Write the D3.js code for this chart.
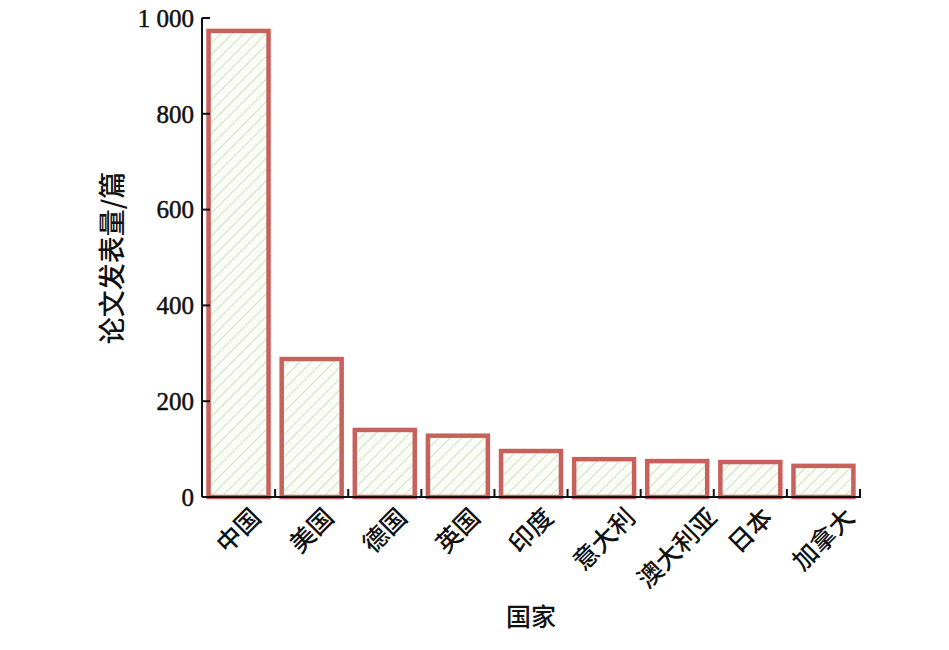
<!DOCTYPE html>
<html>
<head>
<meta charset="utf-8">
<script src="https://cdn.jsdelivr.net/npm/d3@7"></script>
<style>
  body { margin: 0; background: #fff; }
  .Tick { font-family: "Liberation Serif", serif; font-size: 25px; fill: #111; stroke: #111; stroke-width: 0.5px; }
  .Cat, .AxisLabel { font-family: "Noto Sans CJK SC", sans-serif; font-size: 25px; fill: #111; font-weight: 500; }
</style>
</head>
<body>
<div id="ChartContainer"></div>
<script>
var countries = ["中国", "美国", "德国", "英国", "印度", "意大利", "澳大利亚", "日本", "加拿大"]
var papers = [973, 288, 140, 128, 96, 79, 75, 73, 65]
var yTicks = [0, 200, 400, 600, 800, 1000]
var yTickLabels = ["0", "200", "400", "600", "800", "1 000"]

var fullWidth = 949
var fullHeight = 650
var margin = { top: 18, left: 202, right: 89, bottom: 153 }
var width = fullWidth - margin.left - margin.right
var height = fullHeight - margin.top - margin.bottom

var svg = d3.select("#ChartContainer").append("svg")
  .attr("width", fullWidth)
  .attr("height", fullHeight)

// hatch pattern for bars
var defs = svg.append("defs")
var pat = defs.append("pattern")
  .attr("id", "hatch")
  .attr("patternUnits", "userSpaceOnUse")
  .attr("width", 8)
  .attr("height", 8)
  .attr("patternTransform", "rotate(45)")
pat.append("rect").attr("width", 8).attr("height", 8).attr("fill", "#fbfdf8")
pat.append("line")
  .attr("x1", 0).attr("y1", 0).attr("x2", 0).attr("y2", 8)
  .attr("stroke", "#b2cf93")
  .attr("stroke-width", 1.2)

var g = svg.append("g")
  .attr("transform", `translate(${margin.left},${margin.top})`)

var x = d3.scaleBand()
  .domain(countries)
  .range([0, width])
var y = d3.scaleLinear()
  .domain([0, 1000])
  .range([height, 0])

var barW = x.bandwidth() * 0.82

g.selectAll(".Bar")
  .data(countries)
  .enter().append("rect")
  .attr("class", "Bar")
  .attr("x", (d) => x(d) + (x.bandwidth() - barW) / 2)
  .attr("y", (d, i) => y(papers[i]))
  .attr("width", barW)
  .attr("height", (d, i) => height - y(papers[i]))
  .attr("fill", "url(#hatch)")
  .attr("stroke", "#c8605c")
  .attr("stroke-width", 4.5)

// y-axis
g.append("line")
  .attr("x1", 0).attr("x2", 0)
  .attr("y1", 0).attr("y2", height)
  .attr("stroke", "#111").attr("stroke-width", 2)
yTicks.forEach((t, i) => {
  g.append("line")
    .attr("x1", 0).attr("x2", 8)
    .attr("y1", y(t)).attr("y2", y(t))
    .attr("stroke", "#111").attr("stroke-width", 2)
  g.append("text")
    .attr("class", "Tick")
    .attr("x", -8)
    .attr("y", y(t))
    .attr("dy", "0.35em")
    .attr("text-anchor", "end")
    .text(yTickLabels[i])
})

// x-axis
g.append("line")
  .attr("x1", 0).attr("x2", width + 1)
  .attr("y1", height).attr("y2", height)
  .attr("stroke", "#111").attr("stroke-width", 2)
countries.forEach((c) => {
  var xe = x(c) + x.bandwidth()
  g.append("line")
    .attr("x1", xe).attr("x2", xe)
    .attr("y1", height).attr("y2", height - 8)
    .attr("stroke", "#111").attr("stroke-width", 2)
})

// rotated category labels, box top aligned under the axis
countries.forEach((c) => {
  var t = g.append("text")
    .attr("class", "Cat")
    .attr("text-anchor", "middle")
    .attr("dy", "0.35em")
    .text(c)
  var len = t.node().getComputedTextLength()
  var boxH = (len + 25) * Math.SQRT1_2
  var cx = x(c) + x.bandwidth() / 2
  var cy = height + 7 + boxH / 2
  t.attr("transform", `translate(${cx},${cy}) rotate(-45)`)
})

// axis labels
svg.append("text")
  .attr("class", "AxisLabel")
  .attr("x", margin.left + width / 2)
  .attr("y", 617)
  .attr("dy", "0.35em")
  .attr("text-anchor", "middle")
  .text("国家")

svg.append("text")
  .attr("class", "AxisLabel")
  .attr("transform", "translate(113,258) rotate(-90)")
  .attr("dy", "0.35em")
  .attr("text-anchor", "middle")
  .style("font-size", "27px")
  .text("论文发表量/篇")
</script>
</body>
</html>
